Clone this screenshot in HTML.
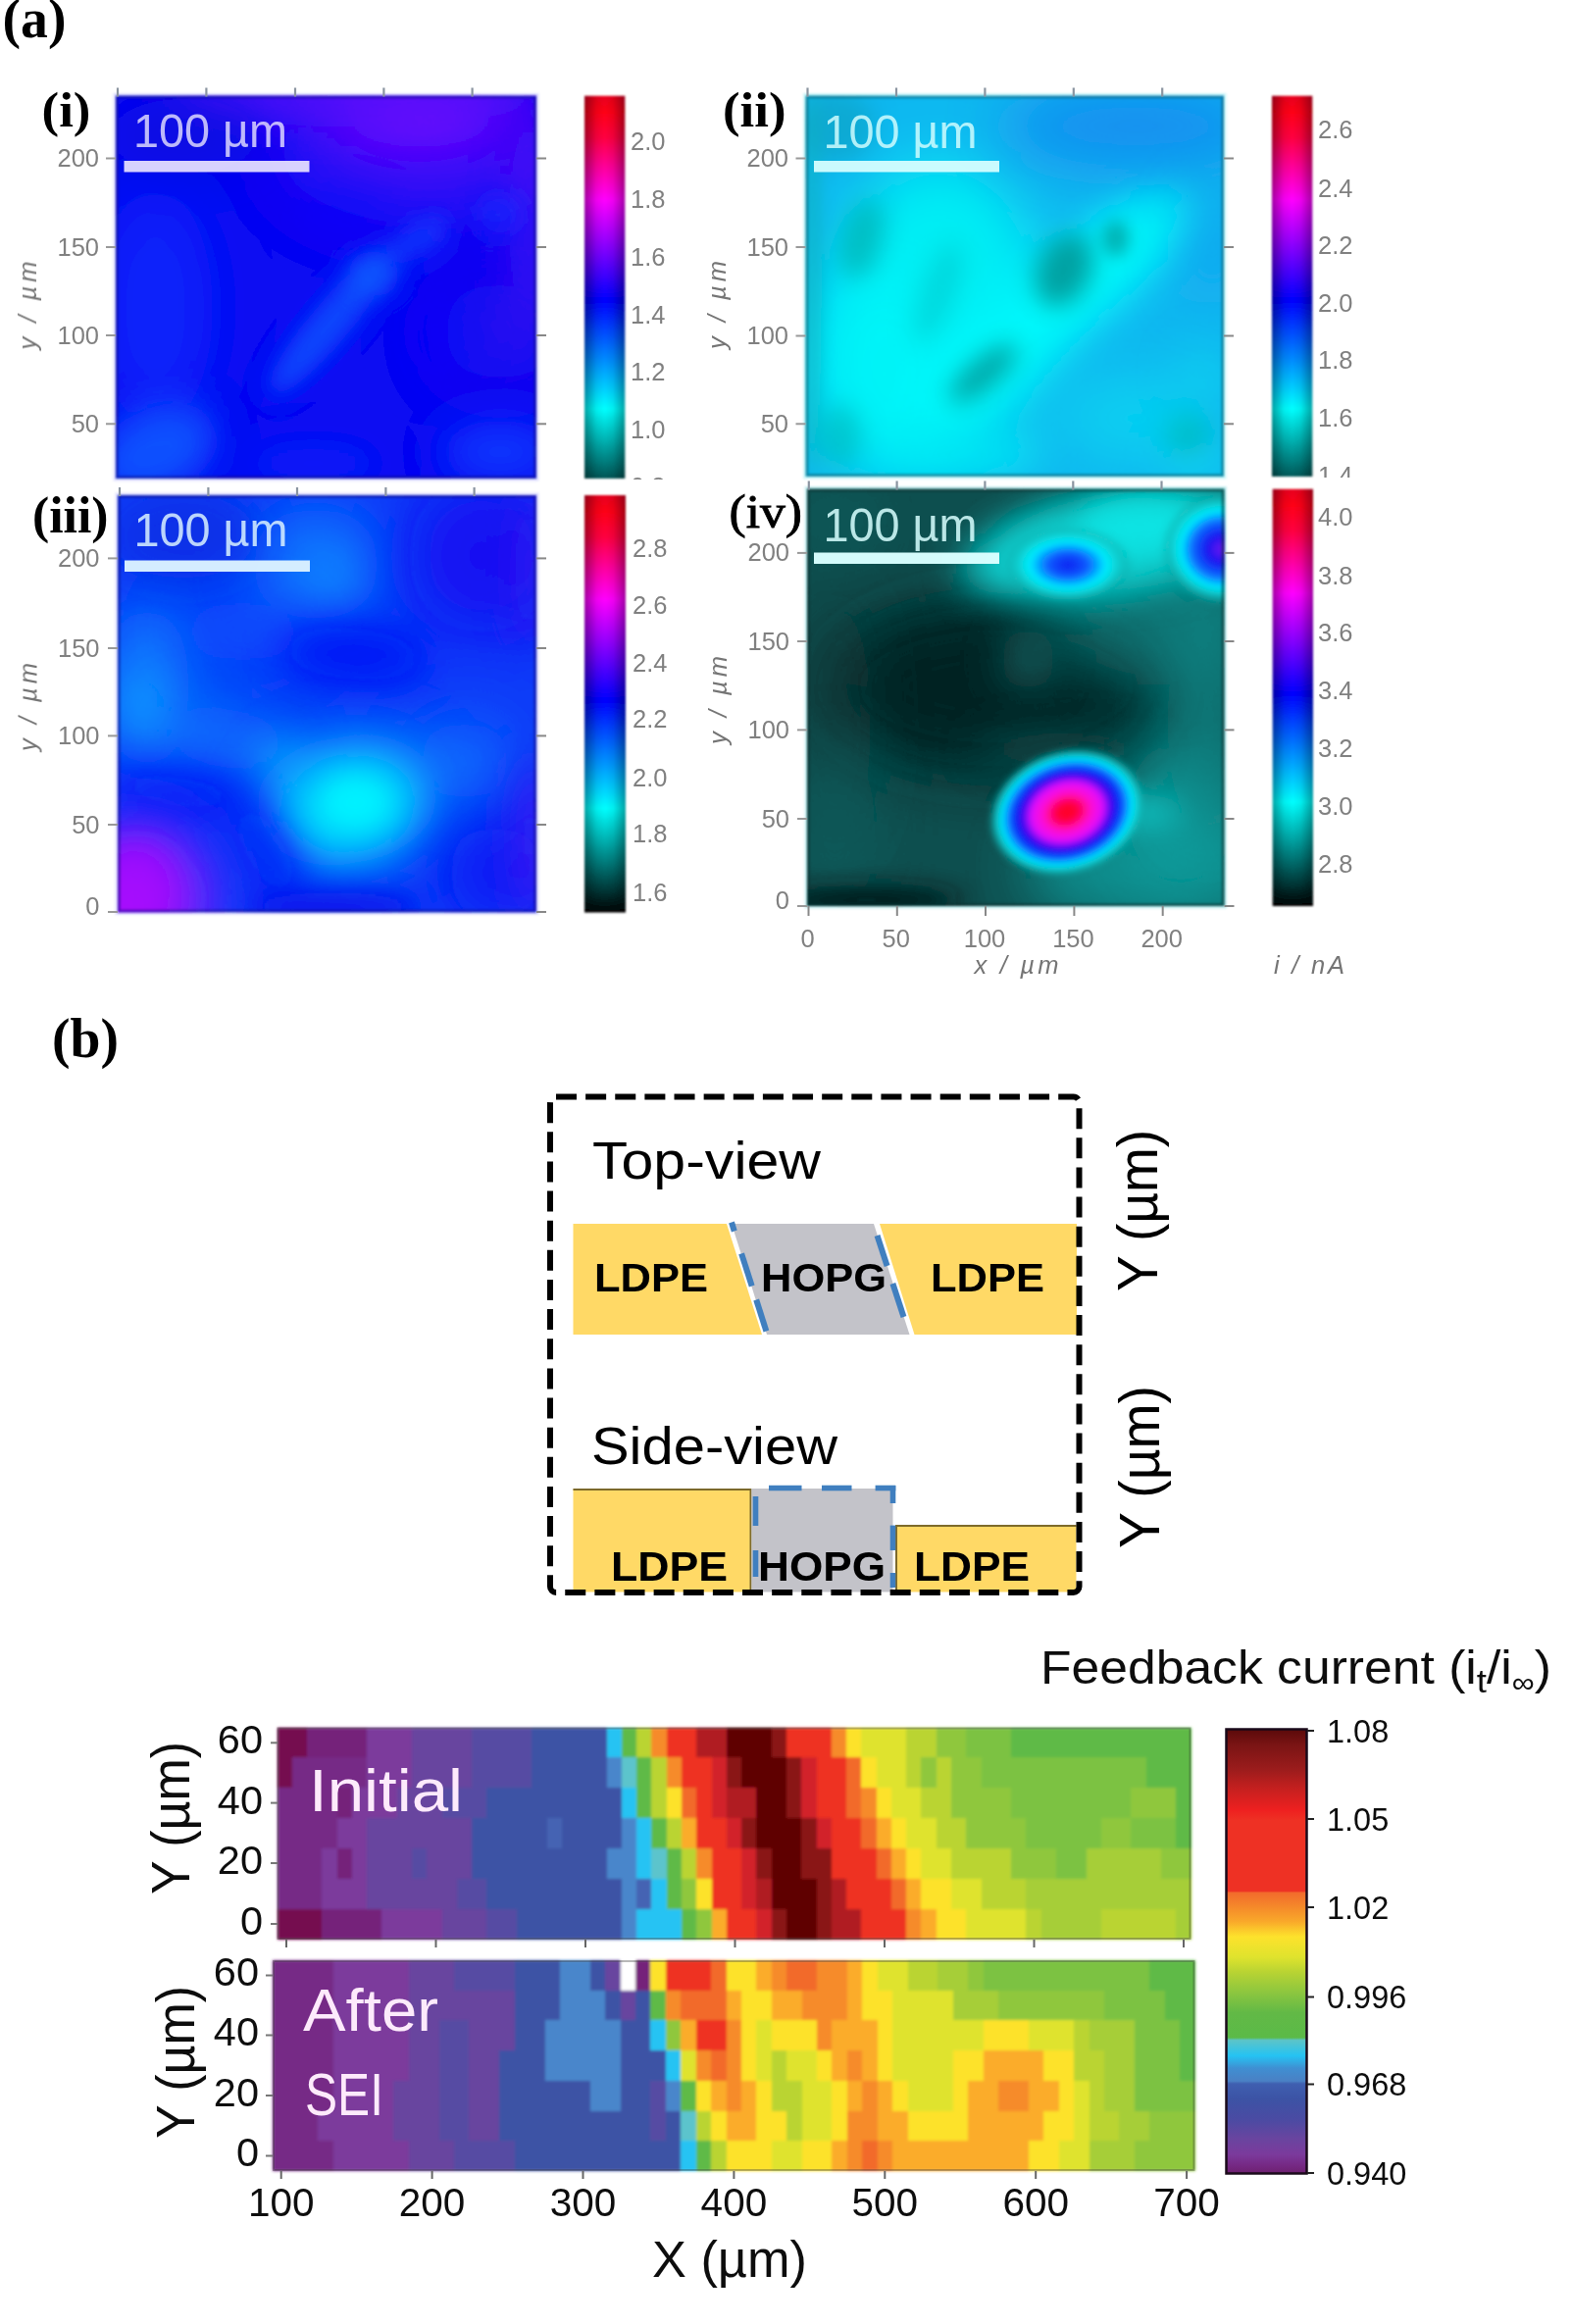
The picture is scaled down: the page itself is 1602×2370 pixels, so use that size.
<!DOCTYPE html>
<html lang="en"><head><meta charset="utf-8"><title>Figure</title>
<style>
html,body{margin:0;padding:0;background:#fff;}
svg{display:block}
.sans{font-family:"Liberation Sans", Arial, sans-serif;}
.serif{font-family:"Liberation Serif", "Times New Roman", serif;font-weight:bold;}
.tk{font-family:"Liberation Sans", Arial, sans-serif;font-size:25.5px;fill:#808080;}
</style></head><body>
<svg width="1602" height="2370" viewBox="0 0 1602 2370">
<defs>
<linearGradient id="cb" x1="0" y1="0" x2="0" y2="1">
<stop offset="0" stop-color="#e8001c"/><stop offset="0.04" stop-color="#ff0018"/><stop offset="0.10" stop-color="#ff0040"/>
<stop offset="0.25" stop-color="#ff00ff"/><stop offset="0.49" stop-color="#0000ff"/>
<stop offset="0.75" stop-color="#00ffff"/><stop offset="1" stop-color="#000000"/>
</linearGradient>
<linearGradient id="cbshade" x1="0" y1="0" x2="1" y2="0">
<stop offset="0" stop-color="#000" stop-opacity="0.36"/><stop offset="0.3" stop-color="#000" stop-opacity="0.06"/><stop offset="0.5" stop-color="#000" stop-opacity="0"/><stop offset="0.7" stop-color="#000" stop-opacity="0.06"/>
<stop offset="1" stop-color="#000" stop-opacity="0.36"/>
</linearGradient>
<filter id="b30" filterUnits="userSpaceOnUse" x="-400" y="-400" width="2600" height="2000"><feGaussianBlur stdDeviation="30"/></filter>
<filter id="b20" filterUnits="userSpaceOnUse" x="-400" y="-400" width="2600" height="2000"><feGaussianBlur stdDeviation="20"/></filter>
<filter id="b12" filterUnits="userSpaceOnUse" x="-400" y="-400" width="2600" height="2000"><feGaussianBlur stdDeviation="12"/></filter>
<filter id="b8" filterUnits="userSpaceOnUse" x="-400" y="-400" width="2600" height="2000"><feGaussianBlur stdDeviation="8"/></filter>
<filter id="b1" x="-10%" y="-10%" width="120%" height="120%"><feGaussianBlur stdDeviation="1.1"/></filter>
<filter id="b18" x="-5%" y="-5%" width="110%" height="110%"><feGaussianBlur stdDeviation="1.6"/></filter>
<filter id="b07" x="-10%" y="-10%" width="120%" height="120%"><feGaussianBlur stdDeviation="0.7"/></filter>
</defs>
<rect width="1602" height="2370" fill="#fff"/>

<text class="serif" x="2.5" y="38" font-size="56" textLength="65" lengthAdjust="spacingAndGlyphs">(a)</text>
<rect x="115.5" y="95.0" width="434" height="395.5" fill="#c8c8ff" opacity="0.55" filter="url(#b1)"/>
<clipPath id="cp1"><rect x="118" y="97.5" width="429" height="390.5"/></clipPath>
<g filter="url(#b1)"><g clip-path="url(#cp1)"><rect x="118" y="97.5" width="429" height="390.5" fill="#0808f2"/>
<ellipse cx="436.7" cy="153.2" rx="152.3" ry="76.1" fill="#4008f8" opacity="0.75" filter="url(#b30)"/>
<ellipse cx="428.0" cy="115.1" rx="87.8" ry="35.1" fill="#7a08ff" opacity="0.95" filter="url(#b30)"/>
<ellipse cx="363.5" cy="97.6" rx="190.3" ry="32.2" fill="#5a08fa" opacity="0.8" filter="url(#b20)"/>
<ellipse cx="539.2" cy="226.4" rx="20.5" ry="123.0" fill="#5510f5" opacity="0.7" filter="url(#b20)"/>
<ellipse cx="510.0" cy="337.7" rx="58.6" ry="49.8" fill="#3008f0" opacity="0.7" filter="url(#b30)"/>
<ellipse cx="158.6" cy="314.3" rx="58.6" ry="123.0" fill="#0834ff" opacity="0.65" filter="url(#b30)"/>
<ellipse cx="337.2" cy="328.9" rx="96.6" ry="20.5" fill="#0a54ff" opacity="0.85" filter="url(#b12)" transform="rotate(-50 337.2 328.9)"/>
<ellipse cx="381.1" cy="279.1" rx="26.4" ry="23.4" fill="#0a60ff" opacity="0.7" filter="url(#b12)"/>
<ellipse cx="425.0" cy="244.0" rx="38.1" ry="17.6" fill="#0a48ff" opacity="0.7" filter="url(#b12)" transform="rotate(-30 425.0 244.0)"/>
<ellipse cx="158.6" cy="460.7" rx="67.3" ry="43.9" fill="#0a58ff" opacity="0.95" filter="url(#b20)" transform="rotate(-25 158.6 460.7)"/>
<ellipse cx="510.0" cy="460.7" rx="58.6" ry="32.2" fill="#0840ff" opacity="0.85" filter="url(#b20)"/>
<ellipse cx="319.6" cy="472.4" rx="73.2" ry="17.6" fill="#0838ff" opacity="0.6" filter="url(#b20)"/>
<ellipse cx="510.0" cy="217.6" rx="26.4" ry="23.4" fill="#0838ff" opacity="0.55" filter="url(#b12)"/>
<ellipse cx="348.9" cy="220.6" rx="49.8" ry="20.5" fill="#0000fa" opacity="0.6" filter="url(#b20)"/>
<ellipse cx="445.5" cy="343.5" rx="35.1" ry="49.8" fill="#0400f8" opacity="0.5" filter="url(#b20)"/>
<ellipse cx="187.8" cy="138.6" rx="76.1" ry="38.1" fill="#0c0cd8" opacity="0.55" filter="url(#b20)"/>

<rect x="119.5" y="99.0" width="426" height="387.5" fill="none" stroke="#101090" stroke-width="3" opacity="0.55"/>
</g></g>
<g filter="url(#b07)"><text class="sans" x="136" y="150.0" font-size="49" fill="#e6e0ff" opacity="0.8099999999999999" textLength="157" lengthAdjust="spacingAndGlyphs">100 µm</text><rect x="126.5" y="164.0" width="189" height="11.5" fill="#e6e0ff" opacity="0.9299999999999999"/></g>
<clipPath id="cc1"><rect x="596" y="97.5" width="41.5" height="390.5"/></clipPath>
<g filter="url(#b1)"><g clip-path="url(#cc1)"><rect x="596" y="97.5" width="41.5" height="426" fill="url(#cb)"/><rect x="596" y="97.5" width="41.5" height="426" fill="url(#cbshade)"/></g></g>
<g filter="url(#b07)"><line x1="120" y1="89.5" x2="120" y2="98.5" stroke="#8a94a0" stroke-width="2.2"/><line x1="210.4" y1="89.5" x2="210.4" y2="98.5" stroke="#8a94a0" stroke-width="2.2"/><line x1="301" y1="89.5" x2="301" y2="98.5" stroke="#8a94a0" stroke-width="2.2"/><line x1="391.4" y1="89.5" x2="391.4" y2="98.5" stroke="#8a94a0" stroke-width="2.2"/><line x1="481.6" y1="89.5" x2="481.6" y2="98.5" stroke="#8a94a0" stroke-width="2.2"/></g>
<g filter="url(#b07)"><line x1="108" y1="161.5" x2="118" y2="161.5" stroke="#999" stroke-width="2"/><line x1="547" y1="161.5" x2="557" y2="161.5" stroke="#888" stroke-width="2"/><text class="tk" x="101" y="170.0" text-anchor="end">200</text><line x1="108" y1="252" x2="118" y2="252" stroke="#999" stroke-width="2"/><line x1="547" y1="252" x2="557" y2="252" stroke="#888" stroke-width="2"/><text class="tk" x="101" y="260.5" text-anchor="end">150</text><line x1="108" y1="342" x2="118" y2="342" stroke="#999" stroke-width="2"/><line x1="547" y1="342" x2="557" y2="342" stroke="#888" stroke-width="2"/><text class="tk" x="101" y="350.5" text-anchor="end">100</text><line x1="108" y1="432.3" x2="118" y2="432.3" stroke="#999" stroke-width="2"/><line x1="547" y1="432.3" x2="557" y2="432.3" stroke="#888" stroke-width="2"/><text class="tk" x="101" y="440.8" text-anchor="end">50</text></g>
<g filter="url(#b07)"><text class="tk" x="643" y="153.4">2.0</text><text class="tk" x="643" y="212">1.8</text><text class="tk" x="643" y="270.6">1.6</text><text class="tk" x="643" y="329.6">1.4</text><text class="tk" x="643" y="387.5">1.2</text><text class="tk" x="643" y="446.7">1.0</text></g>
<text class="tk" font-style="italic" font-size="24" style="fill:#747474" transform="translate(37 311.5) rotate(-90)" text-anchor="middle" textLength="90" lengthAdjust="spacing" filter="url(#b07)">y / µm</text>
<clipPath id="cut1"><rect x="630" y="440" width="80" height="49"/></clipPath><g clip-path="url(#cut1)" filter="url(#b07)"><text class="tk" x="643" y="504.5">0.8</text></g>
<text class="serif" x="42.5" y="129" font-size="51.5" textLength="50" lengthAdjust="spacingAndGlyphs">(i)</text>
<rect x="819.0" y="95.0" width="431.5" height="393.5" fill="#a8f0f6" opacity="0.55" filter="url(#b1)"/>
<clipPath id="cp2"><rect x="821.5" y="97.5" width="426.5" height="388.5"/></clipPath>
<g filter="url(#b1)"><g clip-path="url(#cp2)"><rect x="821.5" y="97.5" width="426.5" height="388.5" fill="#10b8f0"/>
<ellipse cx="956.6" cy="316.6" rx="110.0" ry="151.2" fill="#00eef4" opacity="1.0" filter="url(#b30)"/>
<ellipse cx="901.6" cy="380.8" rx="77.9" ry="105.4" fill="#00f4f8" opacity="0.9" filter="url(#b30)"/>
<ellipse cx="1066.6" cy="316.6" rx="183.3" ry="43.5" fill="#00f6fa" opacity="1.0" filter="url(#b20)" transform="rotate(-38 1066.6 316.6)"/>
<ellipse cx="1158.3" cy="234.2" rx="55.0" ry="27.5" fill="#00f0f8" opacity="0.7" filter="url(#b20)" transform="rotate(-30 1158.3 234.2)"/>
<ellipse cx="984.1" cy="463.3" rx="82.5" ry="22.9" fill="#00ecf4" opacity="0.8" filter="url(#b20)"/>
<ellipse cx="1217.9" cy="467.9" rx="32.1" ry="20.6" fill="#08e0f0" opacity="0.7" filter="url(#b20)"/>
<ellipse cx="851.2" cy="128.7" rx="41.2" ry="36.7" fill="#10a0c0" opacity="0.6" filter="url(#b12)"/>
<ellipse cx="828.3" cy="289.1" rx="9.2" ry="197.1" fill="#10b0b8" opacity="0.6" filter="url(#b8)"/>
<ellipse cx="1002.5" cy="380.8" rx="43.5" ry="14.7" fill="#00a0a0" opacity="0.95" filter="url(#b12)" transform="rotate(-40 1002.5 380.8)"/>
<ellipse cx="1085.0" cy="275.4" rx="27.5" ry="39.0" fill="#009a9a" opacity="0.9" filter="url(#b12)" transform="rotate(25 1085.0 275.4)"/>
<ellipse cx="1137.7" cy="243.3" rx="13.7" ry="18.3" fill="#00a4a4" opacity="0.8" filter="url(#b8)"/>
<ellipse cx="878.7" cy="243.3" rx="20.6" ry="41.2" fill="#00b4b4" opacity="0.75" filter="url(#b12)" transform="rotate(15 878.7 243.3)"/>
<ellipse cx="855.8" cy="445.0" rx="22.9" ry="32.1" fill="#00b8b8" opacity="0.6" filter="url(#b12)"/>
<ellipse cx="1208.7" cy="440.4" rx="22.9" ry="20.6" fill="#00a8a8" opacity="0.85" filter="url(#b12)"/>
<ellipse cx="956.6" cy="298.3" rx="18.3" ry="55.0" fill="#00c4c8" opacity="0.5" filter="url(#b12)" transform="rotate(20 956.6 298.3)"/>
<ellipse cx="1158.3" cy="128.7" rx="137.5" ry="41.2" fill="#1488f0" opacity="0.9" filter="url(#b30)"/>
<ellipse cx="1236.2" cy="252.5" rx="27.5" ry="59.6" fill="#1898f0" opacity="0.6" filter="url(#b30)"/>
<ellipse cx="1158.3" cy="426.6" rx="82.5" ry="41.2" fill="#04dcf2" opacity="0.7" filter="url(#b30)"/>
<ellipse cx="1227.0" cy="380.8" rx="27.5" ry="32.1" fill="#08d8f0" opacity="0.5" filter="url(#b20)"/>

<rect x="823.0" y="99.0" width="423.5" height="385.5" fill="none" stroke="#106070" stroke-width="3" opacity="0.55"/>
</g></g>
<g filter="url(#b07)"><text class="sans" x="839.5" y="151.0" font-size="49" fill="#d8ffff" opacity="0.8099999999999999" textLength="157" lengthAdjust="spacingAndGlyphs">100 µm</text><rect x="830.0" y="164.0" width="189" height="11.5" fill="#d8ffff" opacity="0.9299999999999999"/></g>
<clipPath id="cc2"><rect x="1297" y="97.5" width="41.5" height="388.5"/></clipPath>
<g filter="url(#b1)"><g clip-path="url(#cc2)"><rect x="1297" y="97.5" width="41.5" height="426" fill="url(#cb)"/><rect x="1297" y="97.5" width="41.5" height="426" fill="url(#cbshade)"/></g></g>
<g filter="url(#b07)"><line x1="823.5" y1="89.5" x2="823.5" y2="98.5" stroke="#8a94a0" stroke-width="2.2"/><line x1="914" y1="89.5" x2="914" y2="98.5" stroke="#8a94a0" stroke-width="2.2"/><line x1="1004.4" y1="89.5" x2="1004.4" y2="98.5" stroke="#8a94a0" stroke-width="2.2"/><line x1="1094.8" y1="89.5" x2="1094.8" y2="98.5" stroke="#8a94a0" stroke-width="2.2"/><line x1="1185.2" y1="89.5" x2="1185.2" y2="98.5" stroke="#8a94a0" stroke-width="2.2"/></g>
<g filter="url(#b07)"><line x1="811.5" y1="161.5" x2="821.5" y2="161.5" stroke="#999" stroke-width="2"/><line x1="1248" y1="161.5" x2="1258" y2="161.5" stroke="#888" stroke-width="2"/><text class="tk" x="804" y="170.0" text-anchor="end">200</text><line x1="811.5" y1="252" x2="821.5" y2="252" stroke="#999" stroke-width="2"/><line x1="1248" y1="252" x2="1258" y2="252" stroke="#888" stroke-width="2"/><text class="tk" x="804" y="260.5" text-anchor="end">150</text><line x1="811.5" y1="342.5" x2="821.5" y2="342.5" stroke="#999" stroke-width="2"/><line x1="1248" y1="342.5" x2="1258" y2="342.5" stroke="#888" stroke-width="2"/><text class="tk" x="804" y="351.0" text-anchor="end">100</text><line x1="811.5" y1="432.3" x2="821.5" y2="432.3" stroke="#999" stroke-width="2"/><line x1="1248" y1="432.3" x2="1258" y2="432.3" stroke="#888" stroke-width="2"/><text class="tk" x="804" y="440.8" text-anchor="end">50</text></g>
<g filter="url(#b07)"><text class="tk" x="1344" y="141.3">2.6</text><text class="tk" x="1344" y="201">2.4</text><text class="tk" x="1344" y="258.5">2.2</text><text class="tk" x="1344" y="317.8">2.0</text><text class="tk" x="1344" y="376">1.8</text><text class="tk" x="1344" y="434.6">1.6</text></g>
<text class="tk" font-style="italic" font-size="24" style="fill:#747474" transform="translate(740 311) rotate(-90)" text-anchor="middle" textLength="90" lengthAdjust="spacing" filter="url(#b07)">y / µm</text>
<clipPath id="cut2"><rect x="1330" y="440" width="80" height="47"/></clipPath><g clip-path="url(#cut2)" filter="url(#b07)"><text class="tk" x="1344" y="493.5">1.4</text></g>
<text class="serif" x="737" y="129.2" font-size="50.5" textLength="64.5" lengthAdjust="spacingAndGlyphs">(ii)</text>
<rect x="117.5" y="502.5" width="432" height="430.5" fill="#c8c8ff" opacity="0.55" filter="url(#b1)"/>
<clipPath id="cp3"><rect x="120" y="505" width="427" height="425.5"/></clipPath>
<g filter="url(#b1)"><g clip-path="url(#cp3)"><rect x="120" y="505" width="427" height="425.5" fill="#0a3cf8"/>
<ellipse cx="150.1" cy="701.2" rx="43.0" ry="85.9" fill="#0c8cff" opacity="0.9" filter="url(#b30)"/>
<ellipse cx="144.4" cy="718.4" rx="20.1" ry="31.5" fill="#0ca8ff" opacity="0.7" filter="url(#b20)"/>
<ellipse cx="322.0" cy="575.2" rx="65.9" ry="57.3" fill="#0c80ff" opacity="0.85" filter="url(#b30)"/>
<ellipse cx="339.2" cy="589.5" rx="25.8" ry="20.1" fill="#0c98ff" opacity="0.6" filter="url(#b20)"/>
<ellipse cx="247.5" cy="644.0" rx="65.9" ry="31.5" fill="#0a58ff" opacity="0.6" filter="url(#b30)"/>
<ellipse cx="230.3" cy="752.8" rx="68.7" ry="31.5" fill="#0c80ff" opacity="0.85" filter="url(#b30)" transform="rotate(10 230.3 752.8)"/>
<ellipse cx="473.8" cy="775.7" rx="48.7" ry="40.1" fill="#0c74ff" opacity="0.85" filter="url(#b30)"/>
<ellipse cx="353.5" cy="815.8" rx="94.5" ry="65.9" fill="#0ca0ff" opacity="0.95" filter="url(#b30)" transform="rotate(-10 353.5 815.8)"/>
<ellipse cx="359.2" cy="821.6" rx="65.9" ry="48.7" fill="#00d8fc" opacity="1.0" filter="url(#b20)" transform="rotate(-10 359.2 821.6)"/>
<ellipse cx="362.1" cy="818.7" rx="34.4" ry="25.8" fill="#00f4ff" opacity="0.9" filter="url(#b12)"/>
<ellipse cx="287.6" cy="775.7" rx="25.8" ry="17.2" fill="#00c8fc" opacity="0.6" filter="url(#b20)" transform="rotate(30 287.6 775.7)"/>
<ellipse cx="359.2" cy="666.9" rx="74.5" ry="25.8" fill="#0608f6" opacity="0.9" filter="url(#b20)" transform="rotate(5 359.2 666.9)"/>
<ellipse cx="491.0" cy="566.6" rx="74.5" ry="80.2" fill="#1208f2" opacity="0.9" filter="url(#b30)"/>
<ellipse cx="539.7" cy="580.9" rx="17.2" ry="85.9" fill="#3a0cf0" opacity="0.7" filter="url(#b20)"/>
<ellipse cx="181.6" cy="807.2" rx="74.5" ry="17.2" fill="#0608f6" opacity="0.9" filter="url(#b20)" transform="rotate(8 181.6 807.2)"/>
<ellipse cx="270.4" cy="867.4" rx="20.1" ry="57.3" fill="#0608f6" opacity="0.85" filter="url(#b20)" transform="rotate(-30 270.4 867.4)"/>
<ellipse cx="339.2" cy="924.7" rx="85.9" ry="14.3" fill="#0a0aea" opacity="0.9" filter="url(#b12)"/>
<ellipse cx="505.3" cy="890.3" rx="48.7" ry="48.7" fill="#0a08f4" opacity="0.85" filter="url(#b30)"/>
<ellipse cx="542.5" cy="853.1" rx="14.3" ry="85.9" fill="#5810f0" opacity="0.8" filter="url(#b20)"/>
<ellipse cx="121.5" cy="930.4" rx="94.5" ry="77.3" fill="#a808fc" opacity="1.0" filter="url(#b30)" transform="rotate(-35 121.5 930.4)"/>
<ellipse cx="138.6" cy="890.3" rx="28.6" ry="31.5" fill="#a400ff" opacity="0.8" filter="url(#b20)"/>
<ellipse cx="187.3" cy="546.6" rx="74.5" ry="43.0" fill="#0a2ce0" opacity="0.7" filter="url(#b20)"/>

<rect x="121.5" y="506.5" width="424" height="422.5" fill="none" stroke="#101090" stroke-width="3" opacity="0.55"/>
</g></g>
<g filter="url(#b07)"><text class="sans" x="136.5" y="557" font-size="49" fill="#d8f0ff" opacity="0.86" textLength="157" lengthAdjust="spacingAndGlyphs">100 µm</text><rect x="127.0" y="571.5" width="189" height="11.5" fill="#d8f0ff" opacity="0.98"/></g>
<clipPath id="cc3"><rect x="596" y="505" width="42" height="425.5"/></clipPath>
<g filter="url(#b1)"><g clip-path="url(#cc3)"><rect x="596" y="505" width="42" height="426" fill="url(#cb)"/><rect x="596" y="505" width="42" height="426" fill="url(#cbshade)"/></g></g>
<g filter="url(#b07)"><line x1="122" y1="497" x2="122" y2="506" stroke="#8a94a0" stroke-width="2.2"/><line x1="212.4" y1="497" x2="212.4" y2="506" stroke="#8a94a0" stroke-width="2.2"/><line x1="303" y1="497" x2="303" y2="506" stroke="#8a94a0" stroke-width="2.2"/><line x1="393.4" y1="497" x2="393.4" y2="506" stroke="#8a94a0" stroke-width="2.2"/><line x1="483.6" y1="497" x2="483.6" y2="506" stroke="#8a94a0" stroke-width="2.2"/></g>
<g filter="url(#b07)"><line x1="110" y1="569.4" x2="120" y2="569.4" stroke="#999" stroke-width="2"/><line x1="547" y1="569.4" x2="557" y2="569.4" stroke="#888" stroke-width="2"/><text class="tk" x="101.5" y="577.9" text-anchor="end">200</text><line x1="110" y1="661" x2="120" y2="661" stroke="#999" stroke-width="2"/><line x1="547" y1="661" x2="557" y2="661" stroke="#888" stroke-width="2"/><text class="tk" x="101.5" y="669.5" text-anchor="end">150</text><line x1="110" y1="750.4" x2="120" y2="750.4" stroke="#999" stroke-width="2"/><line x1="547" y1="750.4" x2="557" y2="750.4" stroke="#888" stroke-width="2"/><text class="tk" x="101.5" y="758.9" text-anchor="end">100</text><line x1="110" y1="841" x2="120" y2="841" stroke="#999" stroke-width="2"/><line x1="547" y1="841" x2="557" y2="841" stroke="#888" stroke-width="2"/><text class="tk" x="101.5" y="849.5" text-anchor="end">50</text><line x1="110" y1="930" x2="120" y2="930" stroke="#999" stroke-width="2"/><line x1="547" y1="930" x2="557" y2="930" stroke="#888" stroke-width="2"/><text class="tk" x="101.5" y="932.5" text-anchor="end">0</text></g>
<g filter="url(#b07)"><text class="tk" x="645" y="568">2.8</text><text class="tk" x="645" y="625.5">2.6</text><text class="tk" x="645" y="685">2.4</text><text class="tk" x="645" y="742">2.2</text><text class="tk" x="645" y="802">2.0</text><text class="tk" x="645" y="859">1.8</text><text class="tk" x="645" y="918.8">1.6</text></g>
<text class="tk" font-style="italic" font-size="24" style="fill:#747474" transform="translate(37.5 721) rotate(-90)" text-anchor="middle" textLength="90" lengthAdjust="spacing" filter="url(#b07)">y / µm</text>
<text class="serif" x="33" y="543" font-size="52" textLength="77.5" lengthAdjust="spacingAndGlyphs">(iii)</text>
<radialGradient id="hs1"><stop offset="0" stop-color="#ff0020"/><stop offset="0.14" stop-color="#ff0040"/><stop offset="0.3" stop-color="#ff10d0"/><stop offset="0.45" stop-color="#e010ff"/>
<stop offset="0.54" stop-color="#5008f0"/><stop offset="0.62" stop-color="#1010f0"/><stop offset="0.72" stop-color="#0a60ff"/><stop offset="0.83" stop-color="#00f0ff"/><stop offset="0.92" stop-color="#10c4c4" stop-opacity="0.75"/><stop offset="1" stop-color="#109090" stop-opacity="0"/></radialGradient>
<radialGradient id="hs2"><stop offset="0" stop-color="#1020f0"/><stop offset="0.3" stop-color="#0a58ff"/><stop offset="0.6" stop-color="#00f0ff"/><stop offset="0.8" stop-color="#10c8c8" stop-opacity="0.7"/><stop offset="1" stop-color="#108080" stop-opacity="0"/></radialGradient>
<radialGradient id="hs3"><stop offset="0" stop-color="#7010f0"/><stop offset="0.25" stop-color="#1818f0"/><stop offset="0.5" stop-color="#0a70ff"/><stop offset="0.68" stop-color="#00f0ff"/><stop offset="0.85" stop-color="#10c0c0" stop-opacity="0.7"/><stop offset="1" stop-color="#108080" stop-opacity="0"/></radialGradient>
<filter id="b3" x="-20%" y="-20%" width="140%" height="140%"><feGaussianBlur stdDeviation="3"/></filter>
<rect x="820.5" y="496.0" width="430.5" height="430.5" fill="#a0e4e8" opacity="0.55" filter="url(#b1)"/>
<clipPath id="cp4"><rect x="823" y="498.5" width="425.5" height="425.5"/></clipPath>
<g filter="url(#b1)"><g clip-path="url(#cp4)"><rect x="823" y="498.5" width="425.5" height="425.5" fill="#0c5050"/>
<ellipse cx="1016.2" cy="700.0" rx="178.7" ry="91.7" fill="#052424" opacity="0.95" filter="url(#b30)"/>
<ellipse cx="851.2" cy="736.6" rx="36.7" ry="137.5" fill="#093e3e" opacity="0.55" filter="url(#b30)"/>
<ellipse cx="1181.2" cy="883.3" rx="137.5" ry="68.7" fill="#0f9494" opacity="0.9" filter="url(#b30)"/>
<ellipse cx="1204.1" cy="828.3" rx="55.0" ry="73.3" fill="#10a4a4" opacity="0.85" filter="url(#b30)"/>
<ellipse cx="1158.3" cy="828.3" rx="50.4" ry="18.3" fill="#10d0d0" opacity="0.6" filter="url(#b12)"/>
<ellipse cx="1231.6" cy="736.6" rx="41.2" ry="119.2" fill="#0c8484" opacity="0.8" filter="url(#b30)"/>
<ellipse cx="851.2" cy="846.6" rx="41.2" ry="91.7" fill="#0e6a6a" opacity="0.5" filter="url(#b30)"/>
<ellipse cx="1176.6" cy="608.3" rx="119.2" ry="91.7" fill="#0a9090" opacity="0.6" filter="url(#b30)"/>
<ellipse cx="1158.3" cy="548.7" rx="151.2" ry="50.4" fill="#08c4c4" opacity="0.9" filter="url(#b20)" transform="rotate(-8 1158.3 548.7)"/>
<ellipse cx="1112.5" cy="557.9" rx="137.5" ry="39.0" fill="#10dcdc" opacity="0.9" filter="url(#b20)" transform="rotate(-12 1112.5 557.9)"/>
<ellipse cx="1162.9" cy="535.0" rx="59.6" ry="27.5" fill="#08e8e8" opacity="0.7" filter="url(#b12)"/>
<ellipse cx="1048.3" cy="672.5" rx="27.5" ry="32.1" fill="#0e6c6c" opacity="0.7" filter="url(#b20)"/>
<ellipse cx="851.2" cy="530.4" rx="45.8" ry="36.7" fill="#0b5858" opacity="0.8" filter="url(#b20)"/>
<ellipse cx="883.3" cy="917.7" rx="100.8" ry="13.7" fill="#021414" opacity="0.95" filter="url(#b12)"/>
<ellipse cx="1085.0" cy="764.1" rx="91.7" ry="18.3" fill="#0d6060" opacity="0.6" filter="url(#b20)"/>
<g filter="url(#b3)"><ellipse cx="1088" cy="828" rx="82" ry="64" fill="url(#hs1)" transform="rotate(-18 1088 828)"/><ellipse cx="1089" cy="576" rx="66" ry="40" fill="url(#hs2)"/><ellipse cx="1246" cy="560" rx="62" ry="58" fill="url(#hs3)"/></g>
<rect x="824.5" y="500.0" width="422.5" height="422.5" fill="none" stroke="#083030" stroke-width="3" opacity="0.55"/>
</g></g>
<g filter="url(#b07)"><text class="sans" x="839.5" y="552" font-size="49" fill="#d8ffff" opacity="0.86" textLength="157" lengthAdjust="spacingAndGlyphs">100 µm</text><rect x="830.0" y="563.5" width="189" height="11.5" fill="#d8ffff" opacity="0.98"/></g>
<clipPath id="cc4"><rect x="1297.5" y="498.5" width="41.5" height="425.5"/></clipPath>
<g filter="url(#b1)"><g clip-path="url(#cc4)"><rect x="1297.5" y="498.5" width="41.5" height="426" fill="url(#cb)"/><rect x="1297.5" y="498.5" width="41.5" height="426" fill="url(#cbshade)"/></g></g>
<g filter="url(#b07)"><line x1="824.8" y1="490.5" x2="824.8" y2="499.5" stroke="#8a94a0" stroke-width="2.2"/><line x1="914.6" y1="490.5" x2="914.6" y2="499.5" stroke="#8a94a0" stroke-width="2.2"/><line x1="1004.4" y1="490.5" x2="1004.4" y2="499.5" stroke="#8a94a0" stroke-width="2.2"/><line x1="1094.3" y1="490.5" x2="1094.3" y2="499.5" stroke="#8a94a0" stroke-width="2.2"/><line x1="1184.5" y1="490.5" x2="1184.5" y2="499.5" stroke="#8a94a0" stroke-width="2.2"/></g>
<g filter="url(#b07)"><line x1="813" y1="563.9" x2="823" y2="563.9" stroke="#999" stroke-width="2"/><line x1="1248.5" y1="563.9" x2="1258.5" y2="563.9" stroke="#888" stroke-width="2"/><text class="tk" x="805" y="572.4" text-anchor="end">200</text><line x1="813" y1="654" x2="823" y2="654" stroke="#999" stroke-width="2"/><line x1="1248.5" y1="654" x2="1258.5" y2="654" stroke="#888" stroke-width="2"/><text class="tk" x="805" y="662.5" text-anchor="end">150</text><line x1="813" y1="744.4" x2="823" y2="744.4" stroke="#999" stroke-width="2"/><line x1="1248.5" y1="744.4" x2="1258.5" y2="744.4" stroke="#888" stroke-width="2"/><text class="tk" x="805" y="752.9" text-anchor="end">100</text><line x1="813" y1="835" x2="823" y2="835" stroke="#999" stroke-width="2"/><line x1="1248.5" y1="835" x2="1258.5" y2="835" stroke="#888" stroke-width="2"/><text class="tk" x="805" y="843.5" text-anchor="end">50</text><line x1="813" y1="924" x2="823" y2="924" stroke="#999" stroke-width="2"/><line x1="1248.5" y1="924" x2="1258.5" y2="924" stroke="#888" stroke-width="2"/><text class="tk" x="805" y="926.5" text-anchor="end">0</text></g>
<g filter="url(#b07)"><text class="tk" x="1344" y="536">4.0</text><text class="tk" x="1344" y="595.7">3.8</text><text class="tk" x="1344" y="654">3.6</text><text class="tk" x="1344" y="712.6">3.4</text><text class="tk" x="1344" y="772">3.2</text><text class="tk" x="1344" y="830.8">3.0</text><text class="tk" x="1344" y="889.5">2.8</text></g>
<text class="tk" font-style="italic" font-size="24" style="fill:#747474" transform="translate(741 714) rotate(-90)" text-anchor="middle" textLength="90" lengthAdjust="spacing" filter="url(#b07)">y / µm</text>
<text class="serif" style="font-weight:normal" stroke="#000" stroke-width="0.9" x="743.5" y="537.5" font-size="49.5" textLength="74.5" lengthAdjust="spacingAndGlyphs" filter="url(#b07)">(iv)</text>
<g filter="url(#b07)"><line x1="824.5" y1="924" x2="824.5" y2="934" stroke="#888" stroke-width="2"/><text class="tk" x="823.5" y="966" text-anchor="middle">0</text><line x1="914.8" y1="924" x2="914.8" y2="934" stroke="#888" stroke-width="2"/><text class="tk" x="913.8" y="966" text-anchor="middle">50</text><line x1="1005" y1="924" x2="1005" y2="934" stroke="#888" stroke-width="2"/><text class="tk" x="1004" y="966" text-anchor="middle">100</text><line x1="1095.4" y1="924" x2="1095.4" y2="934" stroke="#888" stroke-width="2"/><text class="tk" x="1094.4" y="966" text-anchor="middle">150</text><line x1="1185.7" y1="924" x2="1185.7" y2="934" stroke="#888" stroke-width="2"/><text class="tk" x="1184.7" y="966" text-anchor="middle">200</text><text class="tk" font-style="italic" font-size="23" style="fill:#747474" x="1036.5" y="993" text-anchor="middle" textLength="86" lengthAdjust="spacing">x / µm</text><text class="tk" font-style="italic" font-size="23" style="fill:#747474" x="1335" y="993" text-anchor="middle" textLength="72" lengthAdjust="spacing">i / nA</text></g>
<text class="serif" x="53" y="1078" font-size="56.5" textLength="68" lengthAdjust="spacingAndGlyphs">(b)</text>
<g filter="url(#b07)">
<polygon points="584.5,1248 741,1248 777,1361 584.5,1361" fill="#ffd966"/>
<polygon points="746,1248 891,1248 927.5,1361 782,1361" fill="#c3c3c9"/>
<polygon points="897,1248 1098,1248 1098,1361 932.5,1361" fill="#ffd966"/>
<line x1="746.0" y1="1246.5" x2="748.8" y2="1255.5" stroke="#3f7fbf" stroke-width="6"/>
<line x1="756.1" y1="1278.4" x2="766.7" y2="1311.5" stroke="#3f7fbf" stroke-width="6"/>
<line x1="771.2" y1="1325.5" x2="781.4" y2="1357.5" stroke="#3f7fbf" stroke-width="6"/>
<line x1="894.5" y1="1260.0" x2="904.6" y2="1291.0" stroke="#3f7fbf" stroke-width="6"/>
<line x1="910.4" y1="1309.0" x2="921.5" y2="1343.0" stroke="#3f7fbf" stroke-width="6"/>
<rect x="584.5" y="1518.5" width="181" height="105" fill="#ffd966"/>
<path d="M584.5 1519 H765.5 V1623" fill="none" stroke="#7d6a2a" stroke-width="2"/>
<rect x="766.5" y="1518" width="144" height="105.5" fill="#c3c3c9"/>
<rect x="913.5" y="1555.5" width="184" height="68" fill="#ffd966"/>
<path d="M914 1623 V1556 H1097.5" fill="none" stroke="#7d6a2a" stroke-width="2"/>
<line x1="784.0" y1="1517.5" x2="817.5" y2="1517.5" stroke="#3f7fbf" stroke-width="5.6"/>
<line x1="838.0" y1="1517.5" x2="868.5" y2="1517.5" stroke="#3f7fbf" stroke-width="5.6"/>
<line x1="892.6" y1="1517.5" x2="913.3" y2="1517.5" stroke="#3f7fbf" stroke-width="5.6"/>
<line x1="770.5" y1="1526.0" x2="770.5" y2="1556.0" stroke="#3f7fbf" stroke-width="5.6"/>
<line x1="770.5" y1="1581.0" x2="770.5" y2="1608.0" stroke="#3f7fbf" stroke-width="5.6"/>
<line x1="910.5" y1="1515.0" x2="910.5" y2="1533.0" stroke="#3f7fbf" stroke-width="5.6"/>
<line x1="910.5" y1="1555.6" x2="910.5" y2="1581.0" stroke="#3f7fbf" stroke-width="5.6"/>
<line x1="910.5" y1="1604.0" x2="910.5" y2="1619.0" stroke="#3f7fbf" stroke-width="5.6"/>
</g>
<rect x="561" y="1118.5" width="539.5" height="505.5" rx="6" fill="none" stroke="#000" stroke-width="6" stroke-dasharray="21 9.13" filter="url(#b07)"/>
<g class="sans" fill="#000" filter="url(#b07)">
<text x="604" y="1202" font-size="53.5" textLength="233" lengthAdjust="spacingAndGlyphs">Top-view</text>
<text x="603" y="1493" font-size="54" textLength="251" lengthAdjust="spacingAndGlyphs">Side-view</text>
<text x="606" y="1316.5" font-size="41.5" font-weight="bold" textLength="116" lengthAdjust="spacingAndGlyphs">LDPE</text>
<text x="776" y="1316.5" font-size="41.5" font-weight="bold" textLength="128" lengthAdjust="spacingAndGlyphs">HOPG</text>
<text x="949" y="1316.5" font-size="41.5" font-weight="bold" textLength="116" lengthAdjust="spacingAndGlyphs">LDPE</text>
<text x="623" y="1612" font-size="43" font-weight="bold" textLength="119" lengthAdjust="spacingAndGlyphs">LDPE</text>
<text x="773" y="1612" font-size="43" font-weight="bold" textLength="130" lengthAdjust="spacingAndGlyphs">HOPG</text>
<text x="932" y="1612" font-size="43" font-weight="bold" textLength="118" lengthAdjust="spacingAndGlyphs">LDPE</text>
<text transform="translate(1179.5 1317) rotate(-90)" font-size="58" textLength="165" lengthAdjust="spacingAndGlyphs">Y (µm)</text>
<text transform="translate(1182 1579) rotate(-90)" font-size="58" textLength="166" lengthAdjust="spacingAndGlyphs">Y (µm)</text>
</g>
<g filter="url(#b18)"><g shape-rendering="crispEdges"><rect x="282.50" y="1761.50" width="31.56" height="31.93" fill="#741050"/><rect x="313.06" y="1761.50" width="62.11" height="31.93" fill="#75207a"/><rect x="374.17" y="1761.50" width="46.84" height="31.93" fill="#7b3a9c"/><rect x="420.01" y="1761.50" width="62.11" height="31.93" fill="#68449f"/><rect x="481.12" y="1761.50" width="62.11" height="31.93" fill="#574ba3"/><rect x="542.24" y="1761.50" width="77.39" height="31.93" fill="#3c53a5"/><rect x="618.63" y="1761.50" width="16.28" height="31.93" fill="#25c3f3"/><rect x="633.91" y="1761.50" width="16.28" height="31.93" fill="#5fba46"/><rect x="649.19" y="1761.50" width="16.28" height="31.93" fill="#bad432"/><rect x="664.47" y="1761.50" width="16.28" height="31.93" fill="#f68b2a"/><rect x="679.75" y="1761.50" width="31.56" height="31.93" fill="#ee3124"/><rect x="710.30" y="1761.50" width="31.56" height="31.93" fill="#b01e23"/><rect x="740.86" y="1761.50" width="46.84" height="31.93" fill="#5e0606"/><rect x="786.70" y="1761.50" width="16.28" height="31.93" fill="#8a1515"/><rect x="801.98" y="1761.50" width="46.84" height="31.93" fill="#ee3124"/><rect x="847.81" y="1761.50" width="16.28" height="31.93" fill="#f68b2a"/><rect x="863.09" y="1761.50" width="16.28" height="31.93" fill="#fde22c"/><rect x="878.37" y="1761.50" width="46.84" height="31.93" fill="#dfe32d"/><rect x="924.20" y="1761.50" width="31.56" height="31.93" fill="#bad432"/><rect x="954.76" y="1761.50" width="31.56" height="31.93" fill="#8fc73e"/><rect x="985.32" y="1761.50" width="46.84" height="31.93" fill="#7cc242"/><rect x="1031.16" y="1761.50" width="183.34" height="31.93" fill="#5fba46"/><rect x="282.50" y="1792.43" width="16.28" height="31.93" fill="#741050"/><rect x="297.78" y="1792.43" width="77.39" height="31.93" fill="#762a86"/><rect x="374.17" y="1792.43" width="46.84" height="31.93" fill="#7b3a9c"/><rect x="420.01" y="1792.43" width="62.11" height="31.93" fill="#68449f"/><rect x="481.12" y="1792.43" width="62.11" height="31.93" fill="#574ba3"/><rect x="542.24" y="1792.43" width="77.39" height="31.93" fill="#3c53a5"/><rect x="618.63" y="1792.43" width="16.28" height="31.93" fill="#4a86cb"/><rect x="633.91" y="1792.43" width="16.28" height="31.93" fill="#5cc4cc"/><rect x="649.19" y="1792.43" width="16.28" height="31.93" fill="#5fba46"/><rect x="664.47" y="1792.43" width="16.28" height="31.93" fill="#bad432"/><rect x="679.75" y="1792.43" width="16.28" height="31.93" fill="#f68b2a"/><rect x="695.02" y="1792.43" width="31.56" height="31.93" fill="#ee3124"/><rect x="725.58" y="1792.43" width="16.28" height="31.93" fill="#d2232a"/><rect x="740.86" y="1792.43" width="16.28" height="31.93" fill="#8a1515"/><rect x="756.14" y="1792.43" width="46.84" height="31.93" fill="#5e0606"/><rect x="801.98" y="1792.43" width="16.28" height="31.93" fill="#8a1515"/><rect x="817.25" y="1792.43" width="16.28" height="31.93" fill="#d2232a"/><rect x="832.53" y="1792.43" width="31.56" height="31.93" fill="#ee3124"/><rect x="863.09" y="1792.43" width="16.28" height="31.93" fill="#f26a2b"/><rect x="878.37" y="1792.43" width="16.28" height="31.93" fill="#fde22c"/><rect x="893.65" y="1792.43" width="31.56" height="31.93" fill="#dfe32d"/><rect x="924.20" y="1792.43" width="16.28" height="31.93" fill="#bad432"/><rect x="939.48" y="1792.43" width="16.28" height="31.93" fill="#8fc73e"/><rect x="954.76" y="1792.43" width="16.28" height="31.93" fill="#bad432"/><rect x="970.04" y="1792.43" width="31.56" height="31.93" fill="#8fc73e"/><rect x="1000.60" y="1792.43" width="169.07" height="31.93" fill="#7cc242"/><rect x="1168.66" y="1792.43" width="45.84" height="31.93" fill="#5fba46"/><rect x="282.50" y="1823.36" width="62.11" height="31.93" fill="#762a86"/><rect x="343.61" y="1823.36" width="16.28" height="31.93" fill="#75207a"/><rect x="358.89" y="1823.36" width="46.84" height="31.93" fill="#7b3a9c"/><rect x="404.73" y="1823.36" width="46.84" height="31.93" fill="#68449f"/><rect x="450.57" y="1823.36" width="46.84" height="31.93" fill="#574ba3"/><rect x="496.40" y="1823.36" width="138.51" height="31.93" fill="#3c53a5"/><rect x="633.91" y="1823.36" width="16.28" height="31.93" fill="#25c3f3"/><rect x="649.19" y="1823.36" width="16.28" height="31.93" fill="#5fba46"/><rect x="664.47" y="1823.36" width="16.28" height="31.93" fill="#bad432"/><rect x="679.75" y="1823.36" width="16.28" height="31.93" fill="#fde22c"/><rect x="695.02" y="1823.36" width="16.28" height="31.93" fill="#f26a2b"/><rect x="710.30" y="1823.36" width="16.28" height="31.93" fill="#ee3124"/><rect x="725.58" y="1823.36" width="16.28" height="31.93" fill="#d2232a"/><rect x="740.86" y="1823.36" width="31.56" height="31.93" fill="#b01e23"/><rect x="771.42" y="1823.36" width="31.56" height="31.93" fill="#5e0606"/><rect x="801.98" y="1823.36" width="16.28" height="31.93" fill="#8a1515"/><rect x="817.25" y="1823.36" width="16.28" height="31.93" fill="#d2232a"/><rect x="832.53" y="1823.36" width="31.56" height="31.93" fill="#ee3124"/><rect x="863.09" y="1823.36" width="16.28" height="31.93" fill="#f26a2b"/><rect x="878.37" y="1823.36" width="16.28" height="31.93" fill="#f68b2a"/><rect x="893.65" y="1823.36" width="16.28" height="31.93" fill="#fde22c"/><rect x="908.93" y="1823.36" width="31.56" height="31.93" fill="#dfe32d"/><rect x="939.48" y="1823.36" width="31.56" height="31.93" fill="#bad432"/><rect x="970.04" y="1823.36" width="62.11" height="31.93" fill="#8fc73e"/><rect x="1031.16" y="1823.36" width="123.23" height="31.93" fill="#7cc242"/><rect x="1153.39" y="1823.36" width="46.84" height="31.93" fill="#8fc73e"/><rect x="1199.22" y="1823.36" width="15.28" height="31.93" fill="#5fba46"/><rect x="282.50" y="1854.29" width="62.11" height="31.93" fill="#762a86"/><rect x="343.61" y="1854.29" width="31.56" height="31.93" fill="#7b3a9c"/><rect x="374.17" y="1854.29" width="107.95" height="31.93" fill="#68449f"/><rect x="481.12" y="1854.29" width="77.39" height="31.93" fill="#3c53a5"/><rect x="557.52" y="1854.29" width="16.28" height="31.93" fill="#4563b3"/><rect x="572.80" y="1854.29" width="62.11" height="31.93" fill="#3c53a5"/><rect x="633.91" y="1854.29" width="16.28" height="31.93" fill="#4a86cb"/><rect x="649.19" y="1854.29" width="16.28" height="31.93" fill="#25c3f3"/><rect x="664.47" y="1854.29" width="16.28" height="31.93" fill="#5fba46"/><rect x="679.75" y="1854.29" width="16.28" height="31.93" fill="#bad432"/><rect x="695.02" y="1854.29" width="16.28" height="31.93" fill="#fbac2a"/><rect x="710.30" y="1854.29" width="31.56" height="31.93" fill="#ee3124"/><rect x="740.86" y="1854.29" width="16.28" height="31.93" fill="#d2232a"/><rect x="756.14" y="1854.29" width="16.28" height="31.93" fill="#8a1515"/><rect x="771.42" y="1854.29" width="46.84" height="31.93" fill="#5e0606"/><rect x="817.25" y="1854.29" width="16.28" height="31.93" fill="#8a1515"/><rect x="832.53" y="1854.29" width="16.28" height="31.93" fill="#d2232a"/><rect x="847.81" y="1854.29" width="31.56" height="31.93" fill="#ee3124"/><rect x="878.37" y="1854.29" width="16.28" height="31.93" fill="#f26a2b"/><rect x="893.65" y="1854.29" width="16.28" height="31.93" fill="#fbac2a"/><rect x="908.93" y="1854.29" width="16.28" height="31.93" fill="#fde22c"/><rect x="924.20" y="1854.29" width="31.56" height="31.93" fill="#dfe32d"/><rect x="954.76" y="1854.29" width="31.56" height="31.93" fill="#bad432"/><rect x="985.32" y="1854.29" width="62.11" height="31.93" fill="#8fc73e"/><rect x="1046.43" y="1854.29" width="77.39" height="31.93" fill="#7cc242"/><rect x="1122.83" y="1854.29" width="31.56" height="31.93" fill="#8fc73e"/><rect x="1153.39" y="1854.29" width="46.84" height="31.93" fill="#7cc242"/><rect x="1199.22" y="1854.29" width="15.28" height="31.93" fill="#5fba46"/><rect x="282.50" y="1885.21" width="46.84" height="31.93" fill="#762a86"/><rect x="328.34" y="1885.21" width="16.28" height="31.93" fill="#7b3a9c"/><rect x="343.61" y="1885.21" width="16.28" height="31.93" fill="#75207a"/><rect x="358.89" y="1885.21" width="16.28" height="31.93" fill="#7b3a9c"/><rect x="374.17" y="1885.21" width="46.84" height="31.93" fill="#68449f"/><rect x="420.01" y="1885.21" width="16.28" height="31.93" fill="#574ba3"/><rect x="435.29" y="1885.21" width="46.84" height="31.93" fill="#68449f"/><rect x="481.12" y="1885.21" width="138.51" height="31.93" fill="#3c53a5"/><rect x="618.63" y="1885.21" width="31.56" height="31.93" fill="#4a86cb"/><rect x="649.19" y="1885.21" width="16.28" height="31.93" fill="#25c3f3"/><rect x="664.47" y="1885.21" width="16.28" height="31.93" fill="#5cc4cc"/><rect x="679.75" y="1885.21" width="16.28" height="31.93" fill="#5fba46"/><rect x="695.02" y="1885.21" width="16.28" height="31.93" fill="#bad432"/><rect x="710.30" y="1885.21" width="16.28" height="31.93" fill="#f68b2a"/><rect x="725.58" y="1885.21" width="31.56" height="31.93" fill="#ee3124"/><rect x="756.14" y="1885.21" width="16.28" height="31.93" fill="#d2232a"/><rect x="771.42" y="1885.21" width="16.28" height="31.93" fill="#8a1515"/><rect x="786.70" y="1885.21" width="31.56" height="31.93" fill="#5e0606"/><rect x="817.25" y="1885.21" width="31.56" height="31.93" fill="#8a1515"/><rect x="847.81" y="1885.21" width="46.84" height="31.93" fill="#ee3124"/><rect x="893.65" y="1885.21" width="16.28" height="31.93" fill="#f26a2b"/><rect x="908.93" y="1885.21" width="16.28" height="31.93" fill="#fbac2a"/><rect x="924.20" y="1885.21" width="16.28" height="31.93" fill="#fde22c"/><rect x="939.48" y="1885.21" width="31.56" height="31.93" fill="#dfe32d"/><rect x="970.04" y="1885.21" width="62.11" height="31.93" fill="#bad432"/><rect x="1031.16" y="1885.21" width="46.84" height="31.93" fill="#8fc73e"/><rect x="1076.99" y="1885.21" width="31.56" height="31.93" fill="#7cc242"/><rect x="1107.55" y="1885.21" width="77.39" height="31.93" fill="#a6ce39"/><rect x="1183.94" y="1885.21" width="30.56" height="31.93" fill="#8fc73e"/><rect x="282.50" y="1916.14" width="46.84" height="31.93" fill="#762a86"/><rect x="328.34" y="1916.14" width="46.84" height="31.93" fill="#7b3a9c"/><rect x="374.17" y="1916.14" width="92.67" height="31.93" fill="#68449f"/><rect x="465.84" y="1916.14" width="31.56" height="31.93" fill="#574ba3"/><rect x="496.40" y="1916.14" width="138.51" height="31.93" fill="#3c53a5"/><rect x="633.91" y="1916.14" width="16.28" height="31.93" fill="#4a86cb"/><rect x="649.19" y="1916.14" width="16.28" height="31.93" fill="#4563b3"/><rect x="664.47" y="1916.14" width="16.28" height="31.93" fill="#25c3f3"/><rect x="679.75" y="1916.14" width="16.28" height="31.93" fill="#5fba46"/><rect x="695.02" y="1916.14" width="16.28" height="31.93" fill="#8fc73e"/><rect x="710.30" y="1916.14" width="16.28" height="31.93" fill="#fde22c"/><rect x="725.58" y="1916.14" width="31.56" height="31.93" fill="#ee3124"/><rect x="756.14" y="1916.14" width="16.28" height="31.93" fill="#d2232a"/><rect x="771.42" y="1916.14" width="16.28" height="31.93" fill="#b01e23"/><rect x="786.70" y="1916.14" width="46.84" height="31.93" fill="#5e0606"/><rect x="832.53" y="1916.14" width="16.28" height="31.93" fill="#8a1515"/><rect x="847.81" y="1916.14" width="16.28" height="31.93" fill="#b01e23"/><rect x="863.09" y="1916.14" width="46.84" height="31.93" fill="#ee3124"/><rect x="908.93" y="1916.14" width="16.28" height="31.93" fill="#f26a2b"/><rect x="924.20" y="1916.14" width="16.28" height="31.93" fill="#fbac2a"/><rect x="939.48" y="1916.14" width="31.56" height="31.93" fill="#fde22c"/><rect x="970.04" y="1916.14" width="31.56" height="31.93" fill="#dfe32d"/><rect x="1000.60" y="1916.14" width="46.84" height="31.93" fill="#bad432"/><rect x="1046.43" y="1916.14" width="168.07" height="31.93" fill="#a6ce39"/><rect x="282.50" y="1947.07" width="46.84" height="30.93" fill="#741050"/><rect x="328.34" y="1947.07" width="62.11" height="30.93" fill="#75207a"/><rect x="389.45" y="1947.07" width="62.11" height="30.93" fill="#7b3a9c"/><rect x="450.57" y="1947.07" width="46.84" height="30.93" fill="#68449f"/><rect x="496.40" y="1947.07" width="31.56" height="30.93" fill="#574ba3"/><rect x="526.96" y="1947.07" width="107.95" height="30.93" fill="#3c53a5"/><rect x="633.91" y="1947.07" width="16.28" height="30.93" fill="#4a86cb"/><rect x="649.19" y="1947.07" width="46.84" height="30.93" fill="#25c3f3"/><rect x="695.02" y="1947.07" width="16.28" height="30.93" fill="#5fba46"/><rect x="710.30" y="1947.07" width="16.28" height="30.93" fill="#8fc73e"/><rect x="725.58" y="1947.07" width="16.28" height="30.93" fill="#fbac2a"/><rect x="740.86" y="1947.07" width="31.56" height="30.93" fill="#ee3124"/><rect x="771.42" y="1947.07" width="16.28" height="30.93" fill="#d2232a"/><rect x="786.70" y="1947.07" width="16.28" height="30.93" fill="#8a1515"/><rect x="801.98" y="1947.07" width="31.56" height="30.93" fill="#5e0606"/><rect x="832.53" y="1947.07" width="16.28" height="30.93" fill="#8a1515"/><rect x="847.81" y="1947.07" width="31.56" height="30.93" fill="#b01e23"/><rect x="878.37" y="1947.07" width="46.84" height="30.93" fill="#ee3124"/><rect x="924.20" y="1947.07" width="16.28" height="30.93" fill="#f68b2a"/><rect x="939.48" y="1947.07" width="16.28" height="30.93" fill="#fbac2a"/><rect x="954.76" y="1947.07" width="31.56" height="30.93" fill="#fde22c"/><rect x="985.32" y="1947.07" width="62.11" height="30.93" fill="#dfe32d"/><rect x="1046.43" y="1947.07" width="16.28" height="30.93" fill="#bad432"/><rect x="1061.71" y="1947.07" width="62.11" height="30.93" fill="#a6ce39"/><rect x="1122.83" y="1947.07" width="77.39" height="30.93" fill="#bad432"/><rect x="1199.22" y="1947.07" width="15.28" height="30.93" fill="#a6ce39"/></g></g>
<rect x="283.5" y="1762.5" width="930.0" height="214.5" fill="none" stroke="#000" stroke-opacity="0.28" stroke-width="2"/>
<g filter="url(#b18)"><g shape-rendering="crispEdges"><rect x="278.00" y="1999.00" width="62.67" height="31.71" fill="#762a86"/><rect x="339.67" y="1999.00" width="78.09" height="31.71" fill="#7b3a9c"/><rect x="416.76" y="1999.00" width="47.25" height="31.71" fill="#68449f"/><rect x="463.02" y="1999.00" width="62.67" height="31.71" fill="#574ba3"/><rect x="524.69" y="1999.00" width="47.25" height="31.71" fill="#3c53a5"/><rect x="570.94" y="1999.00" width="31.84" height="31.71" fill="#4a86cb"/><rect x="601.78" y="1999.00" width="16.42" height="31.71" fill="#3c53a5"/><rect x="617.20" y="1999.00" width="16.42" height="31.71" fill="#68449f"/><rect x="632.61" y="1999.00" width="16.42" height="31.71" fill="#ffffff"/><rect x="648.03" y="1999.00" width="16.42" height="31.71" fill="#75207a"/><rect x="663.45" y="1999.00" width="16.42" height="31.71" fill="#fde22c"/><rect x="678.87" y="1999.00" width="47.25" height="31.71" fill="#ee3124"/><rect x="725.12" y="1999.00" width="16.42" height="31.71" fill="#f26a2b"/><rect x="740.54" y="1999.00" width="31.84" height="31.71" fill="#fde22c"/><rect x="771.38" y="1999.00" width="16.42" height="31.71" fill="#fbac2a"/><rect x="786.80" y="1999.00" width="16.42" height="31.71" fill="#f68b2a"/><rect x="802.21" y="1999.00" width="31.84" height="31.71" fill="#f26a2b"/><rect x="833.05" y="1999.00" width="31.84" height="31.71" fill="#f68b2a"/><rect x="863.89" y="1999.00" width="16.42" height="31.71" fill="#fbac2a"/><rect x="879.30" y="1999.00" width="16.42" height="31.71" fill="#fde22c"/><rect x="894.72" y="1999.00" width="31.84" height="31.71" fill="#dfe32d"/><rect x="925.56" y="1999.00" width="31.84" height="31.71" fill="#bad432"/><rect x="956.39" y="1999.00" width="31.84" height="31.71" fill="#a6ce39"/><rect x="987.23" y="1999.00" width="16.42" height="31.71" fill="#8fc73e"/><rect x="1002.65" y="1999.00" width="170.60" height="31.71" fill="#7cc242"/><rect x="1172.25" y="1999.00" width="46.25" height="31.71" fill="#5fba46"/><rect x="278.00" y="2029.71" width="62.67" height="31.71" fill="#762a86"/><rect x="339.67" y="2029.71" width="78.09" height="31.71" fill="#7b3a9c"/><rect x="416.76" y="2029.71" width="108.93" height="31.71" fill="#68449f"/><rect x="524.69" y="2029.71" width="47.25" height="31.71" fill="#3c53a5"/><rect x="570.94" y="2029.71" width="47.25" height="31.71" fill="#4a86cb"/><rect x="617.20" y="2029.71" width="16.42" height="31.71" fill="#3c53a5"/><rect x="632.61" y="2029.71" width="16.42" height="31.71" fill="#68449f"/><rect x="648.03" y="2029.71" width="16.42" height="31.71" fill="#3c53a5"/><rect x="663.45" y="2029.71" width="16.42" height="31.71" fill="#5fba46"/><rect x="678.87" y="2029.71" width="16.42" height="31.71" fill="#f68b2a"/><rect x="694.29" y="2029.71" width="47.25" height="31.71" fill="#f26a2b"/><rect x="740.54" y="2029.71" width="16.42" height="31.71" fill="#fbac2a"/><rect x="755.96" y="2029.71" width="31.84" height="31.71" fill="#fde22c"/><rect x="786.80" y="2029.71" width="31.84" height="31.71" fill="#fbac2a"/><rect x="817.63" y="2029.71" width="47.25" height="31.71" fill="#f68b2a"/><rect x="863.89" y="2029.71" width="16.42" height="31.71" fill="#fbac2a"/><rect x="879.30" y="2029.71" width="31.84" height="31.71" fill="#fde22c"/><rect x="910.14" y="2029.71" width="62.67" height="31.71" fill="#dfe32d"/><rect x="971.81" y="2029.71" width="47.25" height="31.71" fill="#a6ce39"/><rect x="1018.07" y="2029.71" width="108.93" height="31.71" fill="#8fc73e"/><rect x="1125.99" y="2029.71" width="62.67" height="31.71" fill="#7cc242"/><rect x="1187.66" y="2029.71" width="30.84" height="31.71" fill="#5fba46"/><rect x="278.00" y="2060.43" width="62.67" height="31.71" fill="#762a86"/><rect x="339.67" y="2060.43" width="78.09" height="31.71" fill="#7b3a9c"/><rect x="416.76" y="2060.43" width="31.84" height="31.71" fill="#68449f"/><rect x="447.60" y="2060.43" width="31.84" height="31.71" fill="#574ba3"/><rect x="478.43" y="2060.43" width="47.25" height="31.71" fill="#68449f"/><rect x="524.69" y="2060.43" width="31.84" height="31.71" fill="#3c53a5"/><rect x="555.52" y="2060.43" width="78.09" height="31.71" fill="#4a86cb"/><rect x="632.61" y="2060.43" width="31.84" height="31.71" fill="#3c53a5"/><rect x="663.45" y="2060.43" width="16.42" height="31.71" fill="#25c3f3"/><rect x="678.87" y="2060.43" width="16.42" height="31.71" fill="#8fc73e"/><rect x="694.29" y="2060.43" width="16.42" height="31.71" fill="#fbac2a"/><rect x="709.70" y="2060.43" width="31.84" height="31.71" fill="#ee3124"/><rect x="740.54" y="2060.43" width="16.42" height="31.71" fill="#f68b2a"/><rect x="755.96" y="2060.43" width="16.42" height="31.71" fill="#fde22c"/><rect x="771.38" y="2060.43" width="16.42" height="31.71" fill="#dfe32d"/><rect x="786.80" y="2060.43" width="47.25" height="31.71" fill="#fde22c"/><rect x="833.05" y="2060.43" width="16.42" height="31.71" fill="#f68b2a"/><rect x="848.47" y="2060.43" width="47.25" height="31.71" fill="#fbac2a"/><rect x="894.72" y="2060.43" width="16.42" height="31.71" fill="#fde22c"/><rect x="910.14" y="2060.43" width="93.51" height="31.71" fill="#dfe32d"/><rect x="1002.65" y="2060.43" width="47.25" height="31.71" fill="#fde22c"/><rect x="1048.90" y="2060.43" width="47.25" height="31.71" fill="#dfe32d"/><rect x="1095.16" y="2060.43" width="16.42" height="31.71" fill="#bad432"/><rect x="1110.57" y="2060.43" width="47.25" height="31.71" fill="#a6ce39"/><rect x="1156.83" y="2060.43" width="47.25" height="31.71" fill="#7cc242"/><rect x="1203.08" y="2060.43" width="15.42" height="31.71" fill="#5fba46"/><rect x="278.00" y="2091.14" width="62.67" height="31.71" fill="#762a86"/><rect x="339.67" y="2091.14" width="78.09" height="31.71" fill="#7b3a9c"/><rect x="416.76" y="2091.14" width="31.84" height="31.71" fill="#68449f"/><rect x="447.60" y="2091.14" width="31.84" height="31.71" fill="#574ba3"/><rect x="478.43" y="2091.14" width="31.84" height="31.71" fill="#68449f"/><rect x="509.27" y="2091.14" width="47.25" height="31.71" fill="#3c53a5"/><rect x="555.52" y="2091.14" width="78.09" height="31.71" fill="#4a86cb"/><rect x="632.61" y="2091.14" width="47.25" height="31.71" fill="#3c53a5"/><rect x="678.87" y="2091.14" width="16.42" height="31.71" fill="#25c3f3"/><rect x="694.29" y="2091.14" width="16.42" height="31.71" fill="#dfe32d"/><rect x="709.70" y="2091.14" width="16.42" height="31.71" fill="#f68b2a"/><rect x="725.12" y="2091.14" width="16.42" height="31.71" fill="#f26a2b"/><rect x="740.54" y="2091.14" width="16.42" height="31.71" fill="#f68b2a"/><rect x="755.96" y="2091.14" width="16.42" height="31.71" fill="#fde22c"/><rect x="771.38" y="2091.14" width="16.42" height="31.71" fill="#dfe32d"/><rect x="786.80" y="2091.14" width="16.42" height="31.71" fill="#bad432"/><rect x="802.21" y="2091.14" width="31.84" height="31.71" fill="#dfe32d"/><rect x="833.05" y="2091.14" width="16.42" height="31.71" fill="#fde22c"/><rect x="848.47" y="2091.14" width="16.42" height="31.71" fill="#fbac2a"/><rect x="863.89" y="2091.14" width="16.42" height="31.71" fill="#f68b2a"/><rect x="879.30" y="2091.14" width="16.42" height="31.71" fill="#fbac2a"/><rect x="894.72" y="2091.14" width="16.42" height="31.71" fill="#fde22c"/><rect x="910.14" y="2091.14" width="62.67" height="31.71" fill="#dfe32d"/><rect x="971.81" y="2091.14" width="31.84" height="31.71" fill="#fde22c"/><rect x="1002.65" y="2091.14" width="62.67" height="31.71" fill="#fbac2a"/><rect x="1064.32" y="2091.14" width="31.84" height="31.71" fill="#fde22c"/><rect x="1095.16" y="2091.14" width="31.84" height="31.71" fill="#bad432"/><rect x="1125.99" y="2091.14" width="31.84" height="31.71" fill="#a6ce39"/><rect x="1156.83" y="2091.14" width="47.25" height="31.71" fill="#7cc242"/><rect x="1203.08" y="2091.14" width="15.42" height="31.71" fill="#5fba46"/><rect x="278.00" y="2121.86" width="62.67" height="31.71" fill="#762a86"/><rect x="339.67" y="2121.86" width="62.67" height="31.71" fill="#7b3a9c"/><rect x="401.34" y="2121.86" width="47.25" height="31.71" fill="#68449f"/><rect x="447.60" y="2121.86" width="31.84" height="31.71" fill="#574ba3"/><rect x="478.43" y="2121.86" width="31.84" height="31.71" fill="#68449f"/><rect x="509.27" y="2121.86" width="93.51" height="31.71" fill="#3c53a5"/><rect x="601.78" y="2121.86" width="31.84" height="31.71" fill="#4a86cb"/><rect x="632.61" y="2121.86" width="31.84" height="31.71" fill="#3c53a5"/><rect x="663.45" y="2121.86" width="16.42" height="31.71" fill="#574ba3"/><rect x="678.87" y="2121.86" width="16.42" height="31.71" fill="#4a86cb"/><rect x="694.29" y="2121.86" width="16.42" height="31.71" fill="#5fba46"/><rect x="709.70" y="2121.86" width="16.42" height="31.71" fill="#fde22c"/><rect x="725.12" y="2121.86" width="16.42" height="31.71" fill="#fbac2a"/><rect x="740.54" y="2121.86" width="16.42" height="31.71" fill="#f68b2a"/><rect x="755.96" y="2121.86" width="16.42" height="31.71" fill="#fbac2a"/><rect x="771.38" y="2121.86" width="16.42" height="31.71" fill="#fde22c"/><rect x="786.80" y="2121.86" width="31.84" height="31.71" fill="#bad432"/><rect x="817.63" y="2121.86" width="31.84" height="31.71" fill="#dfe32d"/><rect x="848.47" y="2121.86" width="16.42" height="31.71" fill="#fde22c"/><rect x="863.89" y="2121.86" width="16.42" height="31.71" fill="#fbac2a"/><rect x="879.30" y="2121.86" width="16.42" height="31.71" fill="#f68b2a"/><rect x="894.72" y="2121.86" width="16.42" height="31.71" fill="#fbac2a"/><rect x="910.14" y="2121.86" width="16.42" height="31.71" fill="#fde22c"/><rect x="925.56" y="2121.86" width="47.25" height="31.71" fill="#dfe32d"/><rect x="971.81" y="2121.86" width="16.42" height="31.71" fill="#fde22c"/><rect x="987.23" y="2121.86" width="31.84" height="31.71" fill="#fbac2a"/><rect x="1018.07" y="2121.86" width="31.84" height="31.71" fill="#f68b2a"/><rect x="1048.90" y="2121.86" width="31.84" height="31.71" fill="#fbac2a"/><rect x="1079.74" y="2121.86" width="16.42" height="31.71" fill="#fde22c"/><rect x="1095.16" y="2121.86" width="16.42" height="31.71" fill="#dfe32d"/><rect x="1110.57" y="2121.86" width="16.42" height="31.71" fill="#bad432"/><rect x="1125.99" y="2121.86" width="31.84" height="31.71" fill="#a6ce39"/><rect x="1156.83" y="2121.86" width="61.67" height="31.71" fill="#7cc242"/><rect x="278.00" y="2152.57" width="47.25" height="31.71" fill="#762a86"/><rect x="324.25" y="2152.57" width="78.09" height="31.71" fill="#7b3a9c"/><rect x="401.34" y="2152.57" width="47.25" height="31.71" fill="#68449f"/><rect x="447.60" y="2152.57" width="31.84" height="31.71" fill="#574ba3"/><rect x="478.43" y="2152.57" width="31.84" height="31.71" fill="#68449f"/><rect x="509.27" y="2152.57" width="155.18" height="31.71" fill="#3c53a5"/><rect x="663.45" y="2152.57" width="16.42" height="31.71" fill="#574ba3"/><rect x="678.87" y="2152.57" width="16.42" height="31.71" fill="#3c53a5"/><rect x="694.29" y="2152.57" width="16.42" height="31.71" fill="#5cc4cc"/><rect x="709.70" y="2152.57" width="16.42" height="31.71" fill="#bad432"/><rect x="725.12" y="2152.57" width="16.42" height="31.71" fill="#fde22c"/><rect x="740.54" y="2152.57" width="31.84" height="31.71" fill="#fbac2a"/><rect x="771.38" y="2152.57" width="31.84" height="31.71" fill="#fde22c"/><rect x="802.21" y="2152.57" width="16.42" height="31.71" fill="#bad432"/><rect x="817.63" y="2152.57" width="31.84" height="31.71" fill="#dfe32d"/><rect x="848.47" y="2152.57" width="16.42" height="31.71" fill="#fde22c"/><rect x="863.89" y="2152.57" width="31.84" height="31.71" fill="#f68b2a"/><rect x="894.72" y="2152.57" width="31.84" height="31.71" fill="#fbac2a"/><rect x="925.56" y="2152.57" width="62.67" height="31.71" fill="#fde22c"/><rect x="987.23" y="2152.57" width="78.09" height="31.71" fill="#fbac2a"/><rect x="1064.32" y="2152.57" width="31.84" height="31.71" fill="#fde22c"/><rect x="1095.16" y="2152.57" width="16.42" height="31.71" fill="#dfe32d"/><rect x="1110.57" y="2152.57" width="31.84" height="31.71" fill="#bad432"/><rect x="1141.41" y="2152.57" width="31.84" height="31.71" fill="#a6ce39"/><rect x="1172.25" y="2152.57" width="46.25" height="31.71" fill="#8fc73e"/><rect x="278.00" y="2183.29" width="62.67" height="30.71" fill="#762a86"/><rect x="339.67" y="2183.29" width="78.09" height="30.71" fill="#7b3a9c"/><rect x="416.76" y="2183.29" width="47.25" height="30.71" fill="#68449f"/><rect x="463.02" y="2183.29" width="62.67" height="30.71" fill="#574ba3"/><rect x="524.69" y="2183.29" width="170.60" height="30.71" fill="#3c53a5"/><rect x="694.29" y="2183.29" width="16.42" height="30.71" fill="#25c3f3"/><rect x="709.70" y="2183.29" width="16.42" height="30.71" fill="#5fba46"/><rect x="725.12" y="2183.29" width="16.42" height="30.71" fill="#bad432"/><rect x="740.54" y="2183.29" width="47.25" height="30.71" fill="#fde22c"/><rect x="786.80" y="2183.29" width="31.84" height="30.71" fill="#dfe32d"/><rect x="817.63" y="2183.29" width="31.84" height="30.71" fill="#fde22c"/><rect x="848.47" y="2183.29" width="16.42" height="30.71" fill="#fbac2a"/><rect x="863.89" y="2183.29" width="16.42" height="30.71" fill="#f68b2a"/><rect x="879.30" y="2183.29" width="16.42" height="30.71" fill="#f26a2b"/><rect x="894.72" y="2183.29" width="16.42" height="30.71" fill="#f68b2a"/><rect x="910.14" y="2183.29" width="139.76" height="30.71" fill="#fbac2a"/><rect x="1048.90" y="2183.29" width="31.84" height="30.71" fill="#fde22c"/><rect x="1079.74" y="2183.29" width="31.84" height="30.71" fill="#dfe32d"/><rect x="1110.57" y="2183.29" width="47.25" height="30.71" fill="#a6ce39"/><rect x="1156.83" y="2183.29" width="61.67" height="30.71" fill="#8fc73e"/></g></g>
<rect x="279" y="2000" width="938.5" height="213" fill="none" stroke="#000" stroke-opacity="0.28" stroke-width="2"/>
<g class="sans" fill="#111" filter="url(#b07)">
<line x1="276" y1="1777.3" x2="283" y2="1777.3" stroke="#777" stroke-width="2"/>
<text x="268" y="1788.3" font-size="41.5" text-anchor="end">60</text>
<line x1="276" y1="1838.6" x2="283" y2="1838.6" stroke="#777" stroke-width="2"/>
<text x="268" y="1849.6" font-size="41.5" text-anchor="end">40</text>
<line x1="276" y1="1900" x2="283" y2="1900" stroke="#777" stroke-width="2"/>
<text x="268" y="1911" font-size="41.5" text-anchor="end">20</text>
<line x1="276" y1="1962" x2="283" y2="1962" stroke="#777" stroke-width="2"/>
<text x="268" y="1973" font-size="41.5" text-anchor="end">0</text>
<line x1="271" y1="2014.5" x2="278" y2="2014.5" stroke="#777" stroke-width="2"/>
<text x="264" y="2025.2" font-size="41.5" text-anchor="end">60</text>
<line x1="271" y1="2075.5" x2="278" y2="2075.5" stroke="#777" stroke-width="2"/>
<text x="264" y="2086.2" font-size="41.5" text-anchor="end">40</text>
<line x1="271" y1="2137" x2="278" y2="2137" stroke="#777" stroke-width="2"/>
<text x="264" y="2147.7" font-size="41.5" text-anchor="end">20</text>
<line x1="271" y1="2198.5" x2="278" y2="2198.5" stroke="#777" stroke-width="2"/>
<text x="264" y="2209.2" font-size="41.5" text-anchor="end">0</text>
<line x1="292.0" y1="1978" x2="292.0" y2="1986" stroke="#666" stroke-width="2"/>
<line x1="286.7" y1="2214" x2="286.7" y2="2222" stroke="#666" stroke-width="2"/>
<text x="286.7" y="2260" font-size="40.5" text-anchor="middle">100</text>
<line x1="444.5" y1="1978" x2="444.5" y2="1986" stroke="#666" stroke-width="2"/>
<line x1="440.6" y1="2214" x2="440.6" y2="2222" stroke="#666" stroke-width="2"/>
<text x="440.6" y="2260" font-size="40.5" text-anchor="middle">200</text>
<line x1="597.0" y1="1978" x2="597.0" y2="1986" stroke="#666" stroke-width="2"/>
<line x1="594.5" y1="2214" x2="594.5" y2="2222" stroke="#666" stroke-width="2"/>
<text x="594.5" y="2260" font-size="40.5" text-anchor="middle">300</text>
<line x1="749.5" y1="1978" x2="749.5" y2="1986" stroke="#666" stroke-width="2"/>
<line x1="748.4000000000001" y1="2214" x2="748.4000000000001" y2="2222" stroke="#666" stroke-width="2"/>
<text x="748.4000000000001" y="2260" font-size="40.5" text-anchor="middle">400</text>
<line x1="902.0" y1="1978" x2="902.0" y2="1986" stroke="#666" stroke-width="2"/>
<line x1="902.3" y1="2214" x2="902.3" y2="2222" stroke="#666" stroke-width="2"/>
<text x="902.3" y="2260" font-size="40.5" text-anchor="middle">500</text>
<line x1="1054.5" y1="1978" x2="1054.5" y2="1986" stroke="#666" stroke-width="2"/>
<line x1="1056.2" y1="2214" x2="1056.2" y2="2222" stroke="#666" stroke-width="2"/>
<text x="1056.2" y="2260" font-size="40.5" text-anchor="middle">600</text>
<line x1="1207.0" y1="1978" x2="1207.0" y2="1986" stroke="#666" stroke-width="2"/>
<line x1="1210.1000000000001" y1="2214" x2="1210.1000000000001" y2="2222" stroke="#666" stroke-width="2"/>
<text x="1210.1000000000001" y="2260" font-size="40.5" text-anchor="middle">700</text>
<text x="744" y="2322" font-size="51" text-anchor="middle" textLength="158" lengthAdjust="spacingAndGlyphs">X (µm)</text>
<text transform="translate(193 1932) rotate(-90)" font-size="55" textLength="156" lengthAdjust="spacingAndGlyphs">Y (µm)</text>
<text transform="translate(197.5 2181) rotate(-90)" font-size="55" textLength="156" lengthAdjust="spacingAndGlyphs">Y (µm)</text>
</g>
<g class="sans" fill="#fdeafb" filter="url(#b07)">
<text x="315" y="1847" font-size="62" textLength="157" lengthAdjust="spacingAndGlyphs">Initial</text>
<text x="309" y="2071" font-size="62" textLength="138" lengthAdjust="spacingAndGlyphs">After</text>
<text x="311" y="2157" font-size="62" textLength="80" lengthAdjust="spacingAndGlyphs">SEI</text>
</g>
<linearGradient id="cb2" x1="0" y1="0" x2="0" y2="1"><stop offset="0" stop-color="#5a0a0a"/><stop offset="0.035" stop-color="#7a1414"/><stop offset="0.09" stop-color="#9b1c1c"/><stop offset="0.137" stop-color="#c8201f"/><stop offset="0.182" stop-color="#ee2020"/><stop offset="0.205" stop-color="#ee3124"/><stop offset="0.364" stop-color="#ee3124"/><stop offset="0.368" stop-color="#f26b2c"/><stop offset="0.4" stop-color="#f5892a"/><stop offset="0.433" stop-color="#f9a92a"/><stop offset="0.467" stop-color="#fde22c"/><stop offset="0.513" stop-color="#dfe32d"/><stop offset="0.547" stop-color="#b8d333"/><stop offset="0.593" stop-color="#8cc63f"/><stop offset="0.638" stop-color="#62b946"/><stop offset="0.694" stop-color="#5bba47"/><stop offset="0.7" stop-color="#5cc4c8"/><stop offset="0.735" stop-color="#25c3f3"/><stop offset="0.763" stop-color="#3f8fd2"/><stop offset="0.792" stop-color="#4a80c4"/><stop offset="0.798" stop-color="#3f5fb0"/><stop offset="0.832" stop-color="#3c53a5"/><stop offset="0.877" stop-color="#4a4ba3"/><stop offset="0.923" stop-color="#6a449f"/><stop offset="0.957" stop-color="#7b3a9c"/><stop offset="0.98" stop-color="#762a86"/><stop offset="1" stop-color="#6e2070"/></linearGradient>
<rect x="1250.5" y="1763.5" width="82" height="453" fill="url(#cb2)" stroke="#1a0a1a" stroke-width="2.5"/>
<g class="sans" fill="#111" filter="url(#b07)">
<line x1="1333" y1="1765" x2="1340" y2="1765" stroke="#222" stroke-width="2"/>
<text x="1353" y="1776.5" font-size="32.5">1.08</text>
<line x1="1333" y1="1855" x2="1340" y2="1855" stroke="#222" stroke-width="2"/>
<text x="1353" y="1866.5" font-size="32.5">1.05</text>
<line x1="1333" y1="1945" x2="1340" y2="1945" stroke="#222" stroke-width="2"/>
<text x="1353" y="1956.5" font-size="32.5">1.02</text>
<line x1="1333" y1="2036.5" x2="1340" y2="2036.5" stroke="#222" stroke-width="2"/>
<text x="1353" y="2048.0" font-size="32.5">0.996</text>
<line x1="1333" y1="2125.5" x2="1340" y2="2125.5" stroke="#222" stroke-width="2"/>
<text x="1353" y="2137.0" font-size="32.5">0.968</text>
<line x1="1333" y1="2216" x2="1340" y2="2216" stroke="#222" stroke-width="2"/>
<text x="1353" y="2227.5" font-size="32.5">0.940</text>
<text x="1061" y="1716.5" font-size="48" textLength="521" lengthAdjust="spacingAndGlyphs">Feedback current (i<tspan font-size="34" dy="9">t</tspan><tspan dy="-9">/i</tspan><tspan font-size="30" dy="9">∞</tspan><tspan dy="-9">)</tspan></text>
</g>
</svg></body></html>
